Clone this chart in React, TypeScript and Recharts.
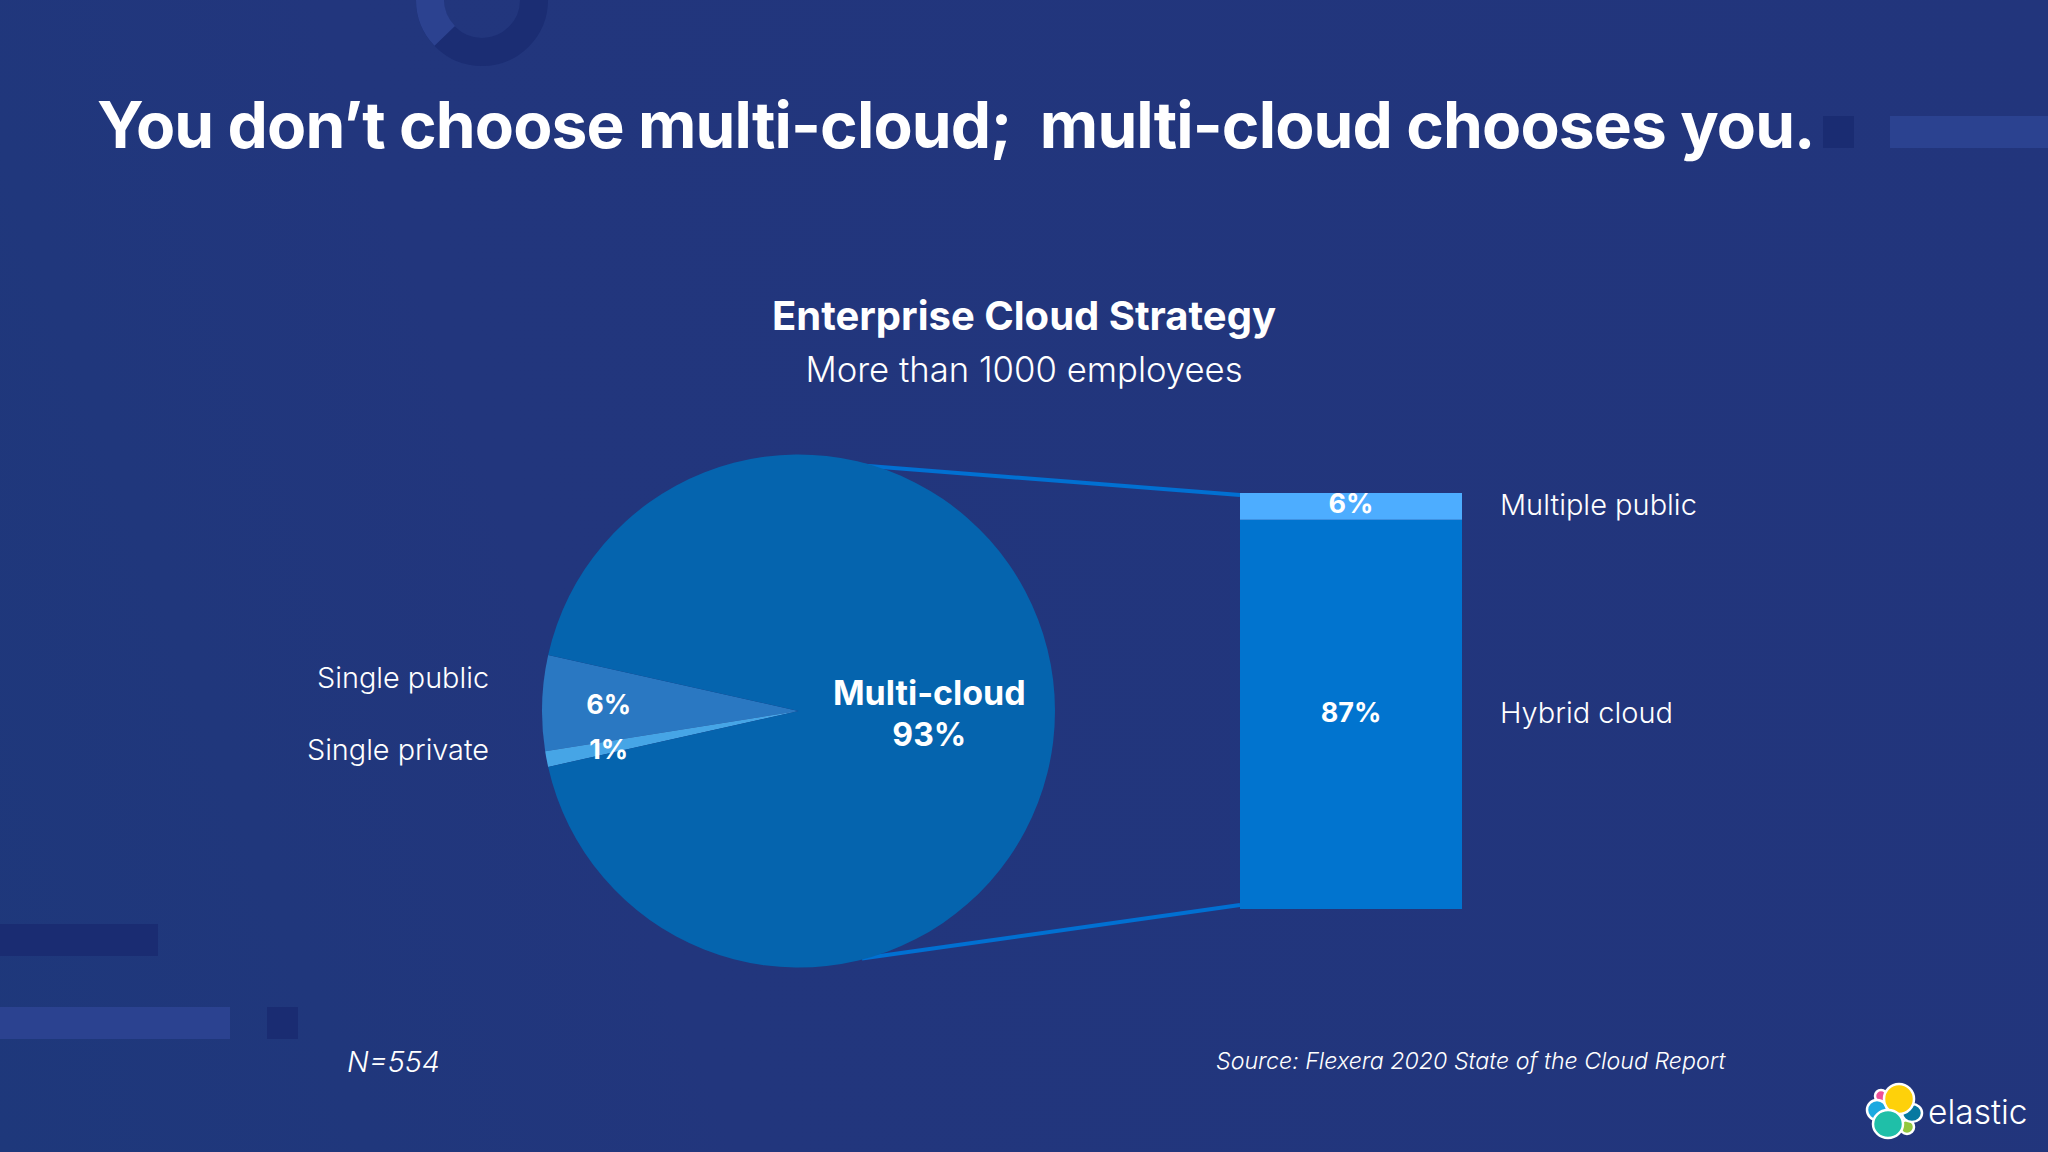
import React from 'react';
import { PieChart, Pie, Cell, BarChart, Bar, XAxis, YAxis, LabelList } from 'recharts';

const FONT = 'Inter, "Noto Sans", sans-serif';

const pieNames = ['Single public', 'Single private', 'Multi-cloud'];
const pieValues = [6, 1, 93];
const pieColors = ['#2a78c2', '#46a5e6', '#0564ae'];

const barNames = ['Hybrid cloud', 'Multiple public'];
const barValues = [87, 6];
const barColors = ['#0174cf', '#4dadff'];

const pieData = pieNames.map((name, i) => ({ name, value: pieValues[i] }));
const barData = [{ name: 'Multi-cloud', hybrid: barValues[0], multiple: barValues[1] }];

const PIE_X = 798.5;
const PIE_Y = 711;
const PIE_R = 256.5;
const PIE_START = 167.4;
const BAR_LEFT = 1240;
const BAR_TOP = 493;
const BAR_W = 222;
const BAR_H = 416;

const RAD = Math.PI / 180;

// the two small slices have their name outside the pie, to the left
const sideLabelY = [-34, 38];

const renderPieLabel = (props: any) => {
  const { midAngle, index, value, name } = props;
  if (index === 2) {
    const x = PIE_X + PIE_R * 0.51;
    return (
      <text x={x} y={PIE_Y} textAnchor="middle" fill="#fff" fontFamily={FONT} fontWeight={700} fontSize={34}>
        <tspan x={x} y={PIE_Y - 6}>{name}</tspan>
        <tspan x={x} y={PIE_Y + 35} fontSize={32}>{value}%</tspan>
      </text>
    );
  }
  const x = PIE_X - PIE_R * 0.74;
  const y = PIE_Y - PIE_R * 0.75 * Math.sin(midAngle * RAD) + index * 2;
  return (
    <g>
      <text x={x} y={y} textAnchor="middle" dominantBaseline="central" fill="#fff" fontFamily={FONT} fontWeight={700} fontSize={27}>
        {value}%
      </text>
      <text x={PIE_X - PIE_R - 53} y={PIE_Y + sideLabelY[index]} textAnchor="end" dominantBaseline="central" fill="#fff" fontFamily={FONT} fontWeight={300} fontSize={28.8}>
        {name}
      </text>
    </g>
  );
};

const Block = ({ x, y, w, h, c }: { x: number; y: number; w: number; h: number; c: string }) => (
  <div style={{ position: 'absolute', left: x, top: y, width: w, height: h, background: c }} />
);

const Txt = ({ x, y, w, align, size, weight, italic, spacing, children }: any) => (
  <div
    style={{
      position: 'absolute', left: x, top: y, width: w, textAlign: align || 'left', color: '#fff',
      fontFamily: FONT, fontSize: size, fontWeight: weight || 400, fontStyle: italic ? 'italic' : 'normal',
      letterSpacing: spacing || 0, lineHeight: 1.2, whiteSpace: 'pre',
    }}
  >
    {children}
  </div>
);

const Logo = () => (
  <svg width={2048} height={1152} style={{ position: 'absolute', left: 0, top: 0 }}>
    <g stroke="#fff" strokeWidth={2.5}>
      <circle cx={1881} cy={1096} r={6} fill="#ee5097" />
      <ellipse cx={1907} cy={1127} rx={7} ry={7} fill="#93c83e" />
      <ellipse cx={1912} cy={1113} rx={10} ry={9} fill="#0779a1" />
      <ellipse cx={1877} cy={1110} rx={10} ry={10} fill="#1ba9e0" />
      <ellipse cx={1899} cy={1099} rx={15} ry={15} fill="#fed10a" />
      <ellipse cx={1888} cy={1124} rx={15} ry={14} fill="#1fbfa8" />
    </g>
  </svg>
);

export default function App() {
  return (
    <div style={{ position: 'absolute', left: 0, top: 0, width: 2048, height: 1152, overflow: 'hidden', background: 'linear-gradient(70deg, #1e387b 0%, #22367d 30%, #22357c 100%)' }}>
      {/* background decoration */}
      <svg width={2048} height={200} style={{ position: 'absolute', left: 0, top: 0 }}>
        <circle cx={482} cy={0} r={52} fill="none" stroke="#1b2d73" strokeWidth={28} />
        <path d="M416 0 A66 66 0 0 0 434.5 45.8 L455 26 A38 38 0 0 1 444 0 Z" fill="#2c4290" />
      </svg>
      <Block x={1823} y={116} w={31} h={32} c="#1a2c72" />
      <Block x={1890} y={116} w={158} h={32} c="#2b4290" />
      <Block x={0} y={924} w={158} h={32} c="#1a2c72" />
      <Block x={0} y={1007} w={230} h={32} c="#2b4290" />
      <Block x={267} y={1007} w={31} h={32} c="#1a2c72" />

      <Txt x={97} y={87} size={64} weight={700} spacing={-0.87}>{'You don’t choose multi-cloud;  multi-cloud chooses you.'}</Txt>
      <Txt x={0} y={292} w={2048} align="center" size={40} weight={700}>Enterprise Cloud Strategy</Txt>
      <Txt x={0} y={349} w={2048} align="center" size={34.7} weight={300}>More than 1000 employees</Txt>
      <Txt x={347} y={1045} size={28.8} weight={300} italic>N=554</Txt>
      <Txt x={1216} y={1048} size={23.2} weight={300} italic>Source: Flexera 2020 State of the Cloud Report</Txt>

      {/* connectors start just inside the pie's edge */}
      <svg width={2048} height={1152} style={{ position: 'absolute', left: 0, top: 0 }}>
        <line x1={862} y1={465.5} x2={BAR_LEFT} y2={BAR_TOP + 2} stroke="#0170d2" strokeWidth={4} />
        <line x1={862} y1={958.5} x2={BAR_LEFT} y2={BAR_TOP + BAR_H - 4} stroke="#0170d2" strokeWidth={4} />
      </svg>

      <div style={{ position: 'absolute', left: 0, top: 0 }}>
        <PieChart width={1200} height={1152} margin={{ top: 0, right: 0, bottom: 0, left: 0 }}>
          <Pie
            data={pieData}
            dataKey="value"
            nameKey="name"
            cx={PIE_X}
            cy={PIE_Y}
            outerRadius={PIE_R}
            startAngle={PIE_START}
            endAngle={PIE_START + 360}
            stroke="none"
            label={renderPieLabel}
            labelLine={false}
            isAnimationActive={false}
          >
            {pieData.map((d, i) => (
              <Cell key={d.name} fill={pieColors[i]} />
            ))}
          </Pie>
        </PieChart>
      </div>

      <div style={{ position: 'absolute', left: BAR_LEFT, top: BAR_TOP }}>
        <BarChart width={BAR_W + 320} height={BAR_H} data={barData} margin={{ top: 0, right: 320, bottom: 0, left: 0 }} barCategoryGap={0}>
          <XAxis dataKey="name" hide />
          <YAxis hide domain={[0, 93]} />
          <Bar dataKey="hybrid" stackId="a" fill={barColors[0]} isAnimationActive={false}>
            <LabelList dataKey="hybrid" position="center" dy={-2} formatter={(v: any) => `${v}%`} fill="#fff" fontFamily={FONT} fontWeight={700} fontSize={27} />
            <LabelList dataKey="hybrid" position="right" dy={-2} offset={38} formatter={() => barNames[0]} fill="#fff" fontFamily={FONT} fontWeight={300} fontSize={29} />
          </Bar>
          <Bar dataKey="multiple" stackId="a" fill={barColors[1]} isAnimationActive={false}>
            <LabelList dataKey="multiple" position="center" dy={-3} formatter={(v: any) => `${v}%`} fill="#fff" fontFamily={FONT} fontWeight={700} fontSize={27} />
            <LabelList dataKey="multiple" position="right" dy={-2} offset={38} formatter={() => barNames[1]} fill="#fff" fontFamily={FONT} fontWeight={300} fontSize={29} />
          </Bar>
        </BarChart>
      </div>

      <Logo />
      <Txt x={1928} y={1092} size={33.5} weight={300}>elastic</Txt>
    </div>
  );
}
